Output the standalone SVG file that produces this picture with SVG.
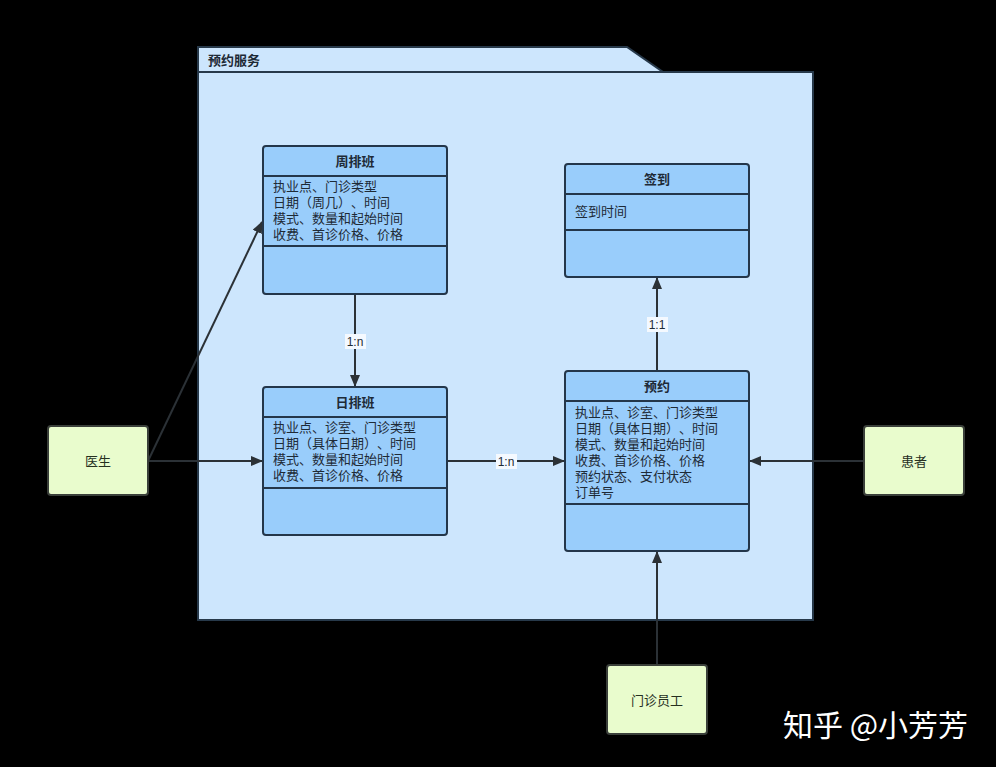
<svg xmlns="http://www.w3.org/2000/svg" width="996" height="767" viewBox="0 0 996 767">
<style>
text{font-family:"Liberation Sans","Noto Sans CJK SC",sans-serif;fill:#1e2a36}
.pkg{fill:#cde6fd;stroke:#27394a;stroke-width:2}
.cls{fill:#99cdfb;stroke:#23364a;stroke-width:2}
.sep{stroke:#23364a;stroke-width:2}
.actor{fill:#e9fccd;stroke:#3a3f3a;stroke-width:2}
.title{font-size:13px;font-weight:bold;text-anchor:middle}
.attr{font-size:13px;text-spacing-trim:space-all}
.act{font-size:13px;text-anchor:middle;fill:#26301f}
.lbl{font-size:12px;text-anchor:middle}
.edge{stroke:#2b3136;stroke-width:2;fill:none}
.lblbg{fill:#f4f9ff}
</style>
<defs>
<marker id="arr" viewBox="0 0 12 10" refX="11" refY="5" markerWidth="12" markerHeight="10" markerUnits="userSpaceOnUse" orient="auto">
<path d="M0,0 L12,5 L0,10 Z" fill="#2b3136"/>
</marker>
</defs>
<rect width="996" height="767" fill="#000"/>
<g id="pkg">
<path class="pkg" d="M198,72 L198,47 L627,47 L663,72 Z"/>
<rect class="pkg" x="198" y="72" width="615" height="548"/>
<text x="208" y="65" style="font-size:13px;font-weight:bold">预约服务</text>
</g>
<g id="connectors">
<line class="edge" x1="148" y1="461" x2="262" y2="461" marker-end="url(#arr)"/>
<line class="edge" x1="148" y1="461" x2="262" y2="222" marker-end="url(#arr)"/>
<line class="edge" x1="355" y1="294" x2="355" y2="386" marker-end="url(#arr)"/>
<rect class="lblbg" x="345" y="334" width="21" height="15"/>
<text class="lbl" x="355" y="346">1:n</text>
<line class="edge" x1="447" y1="461" x2="564" y2="461" marker-end="url(#arr)"/>
<rect class="lblbg" x="496" y="454" width="21" height="15"/>
<text class="lbl" x="506" y="466">1:n</text>
<line class="edge" x1="657" y1="371" x2="657" y2="278" marker-end="url(#arr)"/>
<rect class="lblbg" x="647" y="317" width="21" height="15"/>
<text class="lbl" x="657" y="329">1:1</text>
<line class="edge" x1="864" y1="461" x2="750" y2="461" marker-end="url(#arr)"/>
<line class="edge" x1="657" y1="665" x2="657" y2="552" marker-end="url(#arr)"/>
</g>
<g id="weekly">
<rect class="cls" x="263" y="146" width="184" height="148" rx="3"/>
<line class="sep" x1="263" y1="176" x2="447" y2="176"/>
<line class="sep" x1="263" y1="246" x2="447" y2="246"/>
<text class="title" x="355" y="166">周排班</text>
<text class="attr" x="273" y="191">执业点、门诊类型</text>
<text class="attr" x="273" y="207">日期（周几）、时间</text>
<text class="attr" x="273" y="223">模式、数量和起始时间</text>
<text class="attr" x="273" y="239">收费、首诊价格、价格</text>
</g>
<g id="daily">
<rect class="cls" x="263" y="387" width="184" height="148" rx="3"/>
<line class="sep" x1="263" y1="417" x2="447" y2="417"/>
<line class="sep" x1="263" y1="488" x2="447" y2="488"/>
<text class="title" x="355" y="407">日排班</text>
<text class="attr" x="273" y="432">执业点、诊室、门诊类型</text>
<text class="attr" x="273" y="448">日期（具体日期）、时间</text>
<text class="attr" x="273" y="464">模式、数量和起始时间</text>
<text class="attr" x="273" y="480">收费、首诊价格、价格</text>
</g>
<g id="checkin">
<rect class="cls" x="565" y="164" width="184" height="113" rx="3"/>
<line class="sep" x1="565" y1="194" x2="749" y2="194"/>
<line class="sep" x1="565" y1="230" x2="749" y2="230"/>
<text class="title" x="657" y="184">签到</text>
<text class="attr" x="575" y="216">签到时间</text>
</g>
<g id="booking">
<rect class="cls" x="565" y="371" width="184" height="180" rx="3"/>
<line class="sep" x1="565" y1="401" x2="749" y2="401"/>
<line class="sep" x1="565" y1="504" x2="749" y2="504"/>
<text class="title" x="657" y="391">预约</text>
<text class="attr" x="575" y="417">执业点、诊室、门诊类型</text>
<text class="attr" x="575" y="433">日期（具体日期）、时间</text>
<text class="attr" x="575" y="449">模式、数量和起始时间</text>
<text class="attr" x="575" y="465">收费、首诊价格、价格</text>
<text class="attr" x="575" y="481">预约状态、支付状态</text>
<text class="attr" x="575" y="497">订单号</text>
</g>
<g id="doctor">
<rect class="actor" x="48" y="426" width="100" height="69" rx="3"/>
<text class="act" x="98" y="466">医生</text>
</g>
<g id="patient">
<rect class="actor" x="864" y="426" width="100" height="69" rx="3"/>
<text class="act" x="914" y="466">患者</text>
</g>
<g id="staff">
<rect class="actor" x="607" y="665" width="100" height="69" rx="3"/>
<text class="act" x="657" y="705">门诊员工</text>
</g>
<text x="783" y="736" style="font-size:30px;fill:#ffffff;font-family:'Noto Sans CJK SC',sans-serif">知乎 @小芳芳</text>
</svg>
